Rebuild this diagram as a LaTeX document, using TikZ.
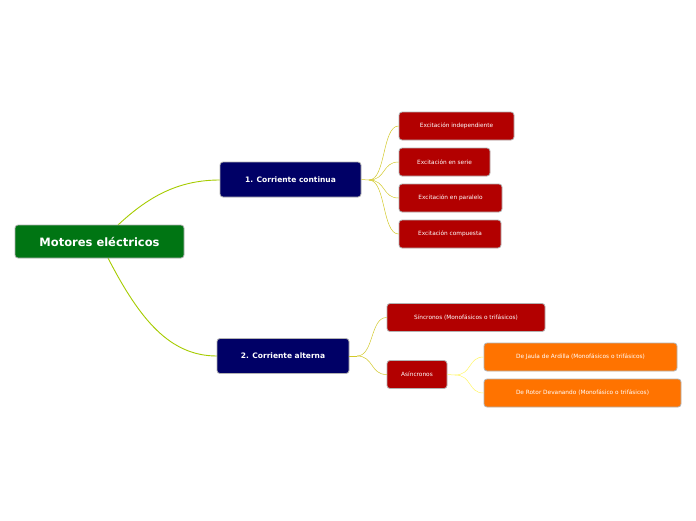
\documentclass[tikz,border=0pt]{standalone}
\usepackage{fontspec}
\setmainfont{DejaVu Sans}
\begin{document}
\begin{tikzpicture}[x=1pt,y=-1pt,
  box/.style={draw=gray!60,line width=0.8pt,rounded corners=3pt,text=white,inner sep=0pt,anchor=center},
  root/.style={box,fill=green!45!black!85!teal,minimum width=169,minimum height=33,font=\bfseries\fontsize{11.5}{13}\selectfont},
  main/.style={box,fill=blue!40!black,minimum height=35,font=\bfseries\fontsize{7.5}{9}\selectfont},
  red/.style={box,fill=red!70!black,minimum height=28,font=\fontsize{5.8}{7}\selectfont},
  org/.style={box,fill=orange!90!red,minimum height=28,font=\fontsize{5.8}{7}\selectfont},
  l1/.style={draw=lime!60!olive,line width=0.9pt},
  l2/.style={draw=olive!50!yellow!80!white,line width=0.5pt},
  l3/.style={draw=yellow!60!white,line width=0.5pt}]
\useasboundingbox (0,0) rectangle (696,520);
\fill[white] (0,0) rectangle (696,520);
\draw[l1] (118,225) .. controls (150,195) and (180,180) .. (220,180);
\draw[l1] (108,258) .. controls (140,320) and (170,356) .. (217,356);
\node[root] (r) at (99.5,241.5) {Motores eléctricos};
\node[main,minimum width=141] (cc) at (290.5,179.5) {1. Corriente continua};
\node[main,minimum width=132] (ca) at (283,356) {2. Corriente alterna};
\node[red,minimum width=115] (a1) at (456.5,126) {Excitación independiente};
\node[red,minimum width=91] (a2) at (444.5,162) {Excitación en serie};
\node[red,minimum width=103] (a3) at (450.5,198) {Excitación en paralelo};
\node[red,minimum width=102] (a4) at (450,234) {Excitación compuesta};
\node[red,minimum width=158] (b1) at (466,317.5) {Síncronos (Monofásicos o trifásicos)};
\node[red,minimum width=60] (b2) at (417,374.5) {Asíncronos};
\node[org,minimum width=193] (c1) at (580.5,357) {De Jaula de Ardilla (Monofásicos o trifásicos)};
\node[org,minimum width=197] (c2) at (582.5,393) {De Rotor Devanando (Monofásico o trifásicos)};
\coordinate (ccs) at (369,180);
\draw[l2] (cc.east) -- (ccs);
\foreach \n in {a1,a2,a3,a4}
  \draw[l2] (ccs) .. controls (386,180) and (382,0|-\n.west) .. (\n.west);
\coordinate (cas) at (357,356);
\draw[l2] (ca.east) -- (cas);
\foreach \n in {b1,b2}
  \draw[l2] (cas) .. controls (374,356) and (370,0|-\n.west) .. (\n.west);
\coordinate (bs) at (455,375);
\draw[l3] (b2.east) -- (bs);
\foreach \n in {c1,c2}
  \draw[l3] (bs) .. controls (472,375) and (468,0|-\n.west) .. (\n.west);
\end{tikzpicture}
\end{document}
